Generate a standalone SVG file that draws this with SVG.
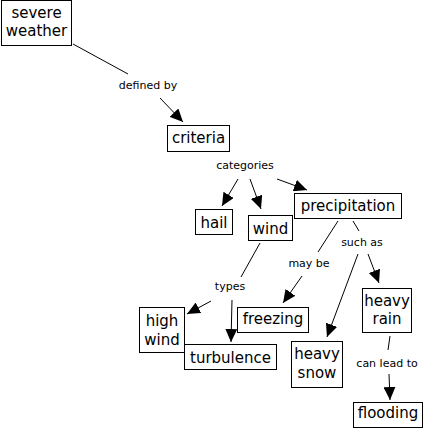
<svg xmlns="http://www.w3.org/2000/svg" width="427" height="429" viewBox="0 0 427 429">
<style>
.box{fill:#fff;stroke:#000;stroke-width:1}
.nt{font-family:"DejaVu Sans",sans-serif;font-size:15px;fill:#000;text-anchor:middle}
.lt{font-family:"DejaVu Sans",sans-serif;font-size:11px;fill:#000;text-anchor:middle}
.ln{stroke:#000;stroke-width:1;fill:none}
</style>
<defs>
<marker id="ah" markerUnits="userSpaceOnUse" markerWidth="14" markerHeight="12" refX="13" refY="6" orient="auto">
<path d="M0,0 L13,6 L0,12 Z" fill="#000"/>
</marker>
</defs>
<rect width="427" height="429" fill="#fff"/>
<g id="connectors">
<line class="ln" x1="73" y1="44" x2="128" y2="74"/>
<text class="lt" x="148" y="89">defined by</text>
<line class="ln" x1="160" y1="98" x2="183" y2="122" marker-end="url(#ah)"/>
<text class="lt" x="245" y="169">categories</text>
<line class="ln" x1="238" y1="179" x2="222" y2="206" marker-end="url(#ah)"/>
<line class="ln" x1="250" y1="179" x2="261" y2="209" marker-end="url(#ah)"/>
<line class="ln" x1="277" y1="179" x2="307" y2="190" marker-end="url(#ah)"/>
<line class="ln" x1="338" y1="221" x2="318" y2="252"/>
<text class="lt" x="309" y="267">may be</text>
<line class="ln" x1="302" y1="276" x2="283" y2="303" marker-end="url(#ah)"/>
<line class="ln" x1="353" y1="221" x2="359" y2="231"/>
<text class="lt" x="362" y="246">such as</text>
<line class="ln" x1="358" y1="254" x2="327" y2="337" marker-end="url(#ah)"/>
<line class="ln" x1="368" y1="254" x2="379" y2="283" marker-end="url(#ah)"/>
<line class="ln" x1="260" y1="243" x2="241" y2="277"/>
<text class="lt" x="230" y="290">types</text>
<line class="ln" x1="211" y1="301" x2="187" y2="314" marker-end="url(#ah)"/>
<line class="ln" x1="232" y1="300" x2="231" y2="342" marker-end="url(#ah)"/>
<line class="ln" x1="390" y1="336" x2="388" y2="350"/>
<text class="lt" x="387" y="367">can lead to</text>
<line class="ln" x1="389" y1="374" x2="390" y2="400" marker-end="url(#ah)"/>
</g>
<g id="severe-weather"><rect class="box" x="1.5" y="0.5" width="70" height="45"/><text class="nt" x="36.5" y="18">severe</text><text class="nt" x="36.5" y="36">weather</text></g>
<g id="criteria"><rect class="box" x="167.5" y="125.5" width="62" height="26"/><text class="nt" x="198.5" y="143">criteria</text></g>
<g id="hail"><rect class="box" x="195.5" y="209.5" width="37" height="25"/><text class="nt" x="214" y="228">hail</text></g>
<g id="wind"><rect class="box" x="248.5" y="215.5" width="44" height="25"/><text class="nt" x="270.5" y="234">wind</text></g>
<g id="precipitation"><rect class="box" x="294.5" y="193.5" width="107" height="25"/><text class="nt" x="348" y="211">precipitation</text></g>
<g id="high-wind"><rect class="box" x="139.5" y="307.5" width="45" height="45"/><text class="nt" x="162" y="326">high</text><text class="nt" x="162" y="345">wind</text></g>
<g id="turbulence"><rect class="box" x="184.5" y="344.5" width="92" height="25"/><text class="nt" x="230.5" y="363">turbulence</text></g>
<g id="freezing"><rect class="box" x="237.5" y="307.5" width="71" height="25"/><text class="nt" x="273" y="324">freezing</text></g>
<g id="heavy-snow"><rect class="box" x="291.5" y="341.5" width="51" height="46"/><text class="nt" x="317" y="359">heavy</text><text class="nt" x="317" y="378">snow</text></g>
<g id="heavy-rain"><rect class="box" x="362.5" y="288.5" width="49" height="44"/><text class="nt" x="387" y="306">heavy</text><text class="nt" x="387" y="324">rain</text></g>
<g id="flooding"><rect class="box" x="353.5" y="402.5" width="69" height="25"/><text class="nt" x="388" y="418">flooding</text></g>
</svg>
